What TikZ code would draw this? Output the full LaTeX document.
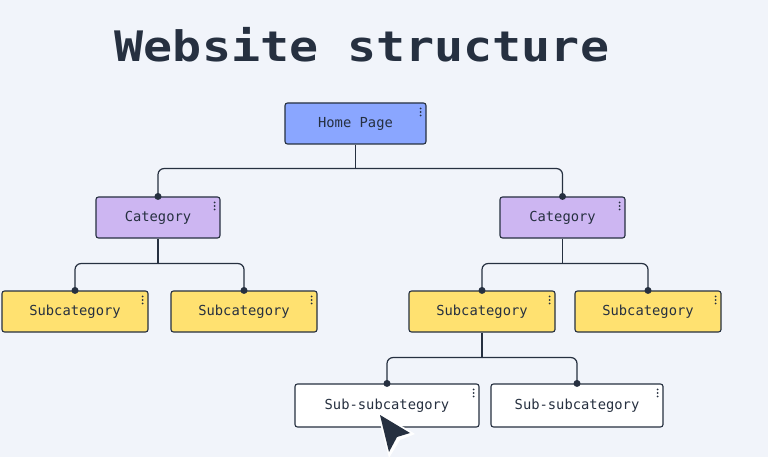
\documentclass[tikz,border=0pt]{standalone}
\usepackage{fontspec}
\setmonofont{DejaVu Sans Mono}
\begin{document}
\definecolor{bg}{HTML}{F1F4FA}
\definecolor{ink}{HTML}{263040}
\definecolor{homec}{HTML}{8AA6FF}
\definecolor{catc}{HTML}{CDB6F2}
\definecolor{subc}{HTML}{FFE170}
\begin{tikzpicture}[x=1pt,y=-1pt,
  box/.style={draw=ink,line width=1.1pt,rounded corners=2.5pt,minimum height=41pt,font=\ttfamily\fontsize{13.8}{15}\selectfont,text=ink},
  conn/.style={draw=ink,line width=1.2pt,rounded corners=6pt},
  dot/.style={fill=ink,circle,inner sep=0pt,minimum size=7pt}]
\fill[bg] (0,0) rectangle (768,457);
\useasboundingbox (0,0) rectangle (768,457);
\node[text=ink,font=\ttfamily\bfseries\fontsize{42}{44}\selectfont,xscale=1.15] (title) at (362,45) {Website structure};
\node[box,fill=homec,minimum width=141pt] (home) at (355.5,123.5) {Home Page};
\node[box,fill=catc,minimum width=124pt] (catl) at (158,217.5) {Category};
\node[box,fill=catc,minimum width=125pt] (catr) at (562.5,217.5) {Category};
\node[box,fill=subc,minimum width=146pt] (s1) at (75,311.5) {Subcategory};
\node[box,fill=subc,minimum width=146pt] (s2) at (244,311.5) {Subcategory};
\node[box,fill=subc,minimum width=146pt] (s3) at (482,311.5) {Subcategory};
\node[box,fill=subc,minimum width=146pt] (s4) at (648,311.5) {Subcategory};
\node[box,fill=white,minimum width=184pt,minimum height=43pt] (ss1) at (387,405.5) {Sub-subcategory};
\node[box,fill=white,minimum width=172pt,minimum height=43pt] (ss2) at (577,405.5) {Sub-subcategory};
\foreach \n in {home,catl,catr,s1,s2,s3,s4,ss1,ss2}{
  \foreach \d in {6,9.5,13}{\fill[ink] ([xshift=-6pt,yshift=-\d pt]\n.north east) circle (1pt);}}
\newcommand{\tree}[4]{%
  \draw[conn] (#1.south) -- ++(0,#4);
  \draw[conn] ([yshift=-#4 pt]#1.south) -| (#2.north);
  \draw[conn] ([yshift=-#4 pt]#1.south) -| (#3.north);
  \node[dot] at (#2.north) {}; \node[dot] at (#3.north) {};}
\tree{home}{catl}{catr}{24}
\tree{catl}{s1}{s2}{25}
\tree{catr}{s3}{s4}{25}
\tree{s3}{ss1}{ss2}{25}
\coordinate (cur) at (380,415);
\fill[white] (377,411) -- (415,434) -- (400,440) -- (389,458) -- cycle;
\fill[ink] (cur) -- (410,433) -- (397,437) -- (389,452) -- cycle;
\end{tikzpicture}
\end{document}
